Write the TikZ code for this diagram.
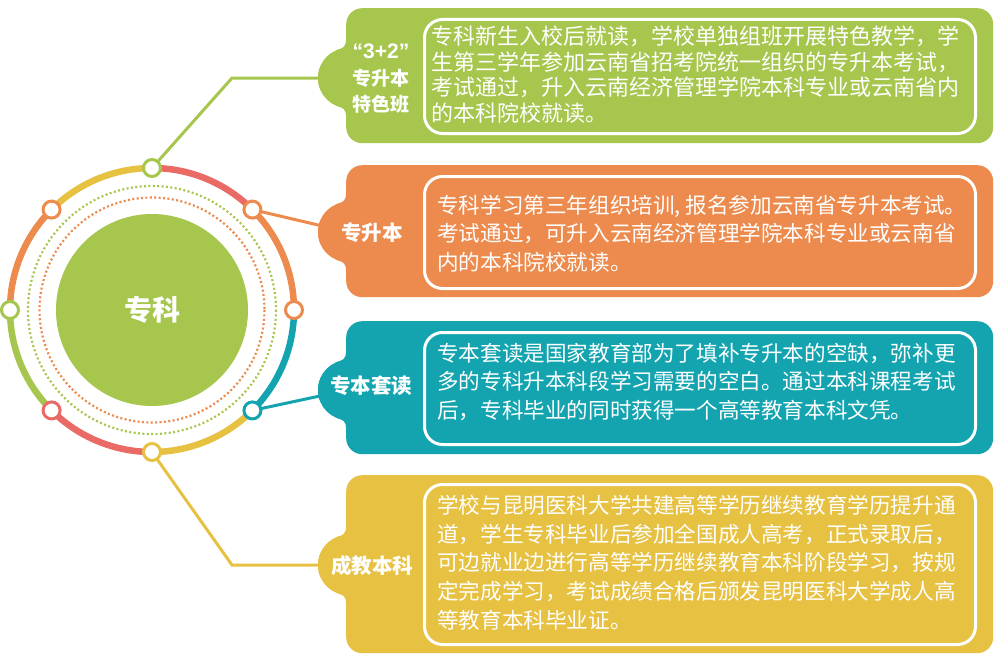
\documentclass[tikz,border=0pt]{standalone}
\usepackage{fontspec}
\setmainfont{Noto Sans CJK SC}
\newfontfamily\latinbold{Liberation Sans}
\usetikzlibrary{calc}
\definecolor{cgreen}{HTML}{A6C64D}
\definecolor{corange}{HTML}{EC8B4D}
\definecolor{cteal}{HTML}{13A4B0}
\definecolor{cyellow}{HTML}{E6C142}
\definecolor{cred}{HTML}{EA6B66}
\newcommand{\lobefillets}[2]{%
  \fill[#1] (346,{#2-38}) .. controls (346,{#2-31}) and (342,{#2-29.5}) .. (338,{#2-28.3}) -- (346,{#2-24}) -- cycle;
  \fill[#1] (346,{#2+38}) .. controls (346,{#2+31}) and (342,{#2+29.5}) .. (338,{#2+28.3}) -- (346,{#2+24}) -- cycle;
}
\begin{document}
\begin{tikzpicture}[x=1pt,y=-1pt,
  ringnode/.style={circle,draw=#1,fill=white,line width=3pt,minimum size=17pt,inner sep=0pt},
  conn/.style={draw=#1,line width=3pt},
  outerbox/.style={rectangle,fill=#1,rounded corners=16pt,anchor=north west,inner sep=0pt,minimum width=647pt},
  innerbox/.style={rectangle,draw=white,line width=3pt,rounded corners=18pt,anchor=north west,inner sep=0pt,minimum width=551pt},
  lobe/.style={circle,fill=#1,minimum size=60pt,inner sep=0pt},
  bodytext/.style={text=white,anchor=north west,align=left,inner sep=0pt},
  labeltext/.style={text=white,align=center,inner sep=0pt},
  ringarc/.style={draw=#1,line width=6.5pt},
  dotring/.style={draw=#1,line width=2.2pt,dash pattern=on 2pt off 2.4pt}
]
\useasboundingbox (0,0) rectangle (1000,669);
\coordinate (c) at (152,310);
\coordinate (k1) at (232,78);
\coordinate (k4) at (232,565);

% ring node positions
\coordinate (p90) at ($(c)+(-90:142)$);
\coordinate (p45) at ($(c)+(-45:142)$);
\coordinate (p0) at ($(c)+(0:142)$);
\coordinate (pm45) at ($(c)+(45:142)$);
\coordinate (pm90) at ($(c)+(90:142)$);
\coordinate (pm135) at ($(c)+(135:142)$);
\coordinate (p180) at ($(c)+(180:142)$);
\coordinate (p135) at ($(c)+(225:142)$);

% lobes
\node[lobe=cgreen] (l1) at (348,78) {};
\node[lobe=corange] (l2) at (348,232) {};
\node[lobe=cteal] (l3) at (348,390) {};
\node[lobe=cyellow] (l4) at (348,565) {};

% connectors
\draw[conn=cgreen] (p90) -- (k1) -- (l1.center);
\draw[conn=corange] (p45) -- (l2.center);
\draw[conn=cteal] (pm45) -- (l3.center);
\draw[conn=cyellow] (pm90) -- (k4) -- (l4.center);

% boxes
\node[outerbox=cgreen,minimum height=135pt] (b1) at (346,8) {};
\node[outerbox=corange,minimum height=132pt] (b2) at (346,165) {};
\node[outerbox=cteal,minimum height=133pt] (b3) at (346,321) {};
\node[outerbox=cyellow,minimum height=178pt] (b4) at (346,475) {};
\node[lobe=cgreen] (l1b) at (348,78) {};
\node[lobe=corange] (l2b) at (348,232) {};
\node[lobe=cteal] (l3b) at (348,390) {};
\node[lobe=cyellow] (l4b) at (348,565) {};
\lobefillets{cgreen}{78}
\lobefillets{corange}{232}
\lobefillets{cteal}{390}
\lobefillets{cyellow}{565}

\node[innerbox,minimum height=114pt] (i1) at (423,18) {};
\node[innerbox,minimum height=112pt] (i2) at (423,175) {};
\node[innerbox,minimum height=112pt] (i3) at (423,331) {};
\node[innerbox,minimum height=160pt] (i4) at (423,483) {};

% body texts
\node[bodytext,font=\fontsize{22}{25.5}\selectfont] (t1) at (431,24.4) {\rule{0pt}{20pt}专科新生入校后就读，学校单独组班开展特色教学，学\\生第三学年参加云南省招考院统一组织的专升本考试，\\考试通过，升入云南经济管理学院本科专业或云南省内\\的本科院校就读。};
\node[bodytext,font=\fontsize{21.6}{28.5}\selectfont] (t2) at (437,193.2) {\rule{0pt}{20pt}专科学习第三年组织培训, 报名参加云南省专升本考试。\\考试通过，可升入云南经济管理学院本科专业或云南省\\内的本科院校就读。};
\node[bodytext,font=\fontsize{21.6}{28.5}\selectfont] (t3) at (437,341.2) {\rule{0pt}{20pt}专本套读是国家教育部为了填补专升本的空缺，弥补更\\多的专科升本科段学习需要的空白。通过本科课程考试\\后，专科毕业的同时获得一个高等教育本科文凭。};
\node[bodytext,font=\fontsize{21.6}{28.7}\selectfont] (t4) at (437,493.2) {\rule{0pt}{20pt}学校与昆明医科大学共建高等学历继续教育学历提升通\\道，学生专科毕业后参加全国成人高考，正式录取后，\\可边就业边进行高等学历继续教育本科阶段学习，按规\\定完成学习，考试成绩合格后颁发昆明医科大学成人高\\等教育本科毕业证。};

% labels
\node[labeltext,font=\bfseries\fontsize{19}{26.5}\selectfont] (lab1) at (381,79) {{\latinbold\fontsize{21}{26.5}\selectfont “3+2”}\\专升本\\特色班};
\node[labeltext,font=\bfseries\fontsize{20.5}{24}\selectfont] (lab2) at (372,233) {专升本};
\node[labeltext,font=\bfseries\fontsize{20.5}{24}\selectfont] (lab3) at (371,386) {专本套读};
\node[labeltext,font=\bfseries\fontsize{20.5}{24}\selectfont] (lab4) at (372,566) {成教本科};

% central disc and rings
\draw[dotring=cgreen] (c) circle[radius=124];
\draw[dotring=corange] (c) circle[radius=112.5];
\node[circle,fill=cgreen,minimum size=192pt,inner sep=0pt,text=white,font=\bfseries\fontsize{28}{30}\selectfont] (core) at (c) {专科};

\draw[ringarc=cred] (p90) arc[start angle=-90,end angle=-45,radius=142];
\draw[ringarc=corange] (p45) arc[start angle=-45,end angle=0,radius=142];
\draw[ringarc=cteal] (p0) arc[start angle=0,end angle=45,radius=142];
\draw[ringarc=cyellow] (pm45) arc[start angle=45,end angle=90,radius=142];
\draw[ringarc=cred] (pm90) arc[start angle=90,end angle=135,radius=142];
\draw[ringarc=cgreen] (pm135) arc[start angle=135,end angle=180,radius=142];
\draw[ringarc=corange] (p180) arc[start angle=180,end angle=225,radius=142];
\draw[ringarc=cyellow] (p135) arc[start angle=225,end angle=270,radius=142];

\node[ringnode=cgreen] (n90) at (p90) {};
\node[ringnode=corange] (n45) at (p45) {};
\node[ringnode=corange] (n0) at (p0) {};
\node[ringnode=cteal] (nm45) at (pm45) {};
\node[ringnode=cyellow] (nm90) at (pm90) {};
\node[ringnode=cred] (nm135) at (pm135) {};
\node[ringnode=cgreen] (n180) at (p180) {};
\node[ringnode=corange] (n135) at (p135) {};
\end{tikzpicture}
\end{document}
